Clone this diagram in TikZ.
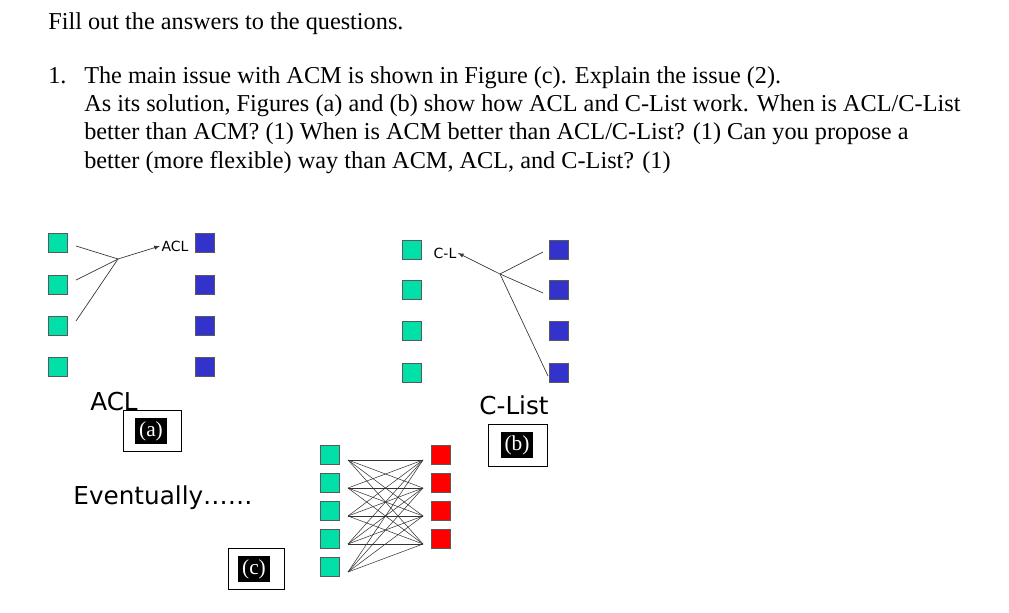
\documentclass[tikz,border=0pt]{standalone}
\usepackage{fontspec}
\setmainfont{Liberation Serif}
\newfontfamily\sans{DejaVu Sans}
\definecolor{gq}{HTML}{00E0A8}
\definecolor{bq}{HTML}{3333CC}
\begin{document}
\begin{tikzpicture}[x=0.75pt,y=-0.75pt,
  gsq/.style={draw=gray!70!black,fill=gq,minimum size=14.5pt,inner sep=0pt,line width=0.6pt},
  bsq/.style={draw=gray!70!black,fill=bq,minimum size=14.5pt,inner sep=0pt,line width=0.6pt},
  rsq/.style={draw=gray!70!black,fill=red,minimum size=14.5pt,inner sep=0pt,line width=0.6pt},
  ln/.style={draw=black!80,line width=0.5pt},
  tx/.style={anchor=base west,inner sep=0pt,font=\fontsize{18.2}{20}\selectfont},
  big/.style={font=\sans\fontsize{18.5}{22}\selectfont},
  lab/.style={fill=black,text=white,inner xsep=3pt,inner ysep=2.5pt,font=\fontsize{16}{18}\selectfont},
  frame/.style={draw,line width=0.6pt,minimum width=44pt,minimum height=31pt}]
\useasboundingbox (0,0) rectangle (1009,613);
\node[tx] (t0) at (48,30) {Fill out the answers to the questions.};
\node[tx] (t1) at (48,84) {1.};
\node[tx] (t2) at (84,84) {The main issue with ACM is shown in Figure (c). Explain the issue (2).};
\node[tx] (t3) at (84,112) {As its solution, Figures (a) and (b) show how ACL and C-List work. When is ACL/C-List};
\node[tx] (t4) at (84,140) {better than ACM? (1) When is ACM better than ACL/C-List? (1) Can you propose a};
\node[tx] (t5) at (84,168) {better (more flexible) way than ACM, ACL, and C-List? (1)};
% (a)
\foreach \i/\y in {1/243,2/285,3/326,4/367}{
  \node[gsq] (ag\i) at (58,\y) {};
  \node[bsq] (ab\i) at (205,\y) {};}
\coordinate (aj) at (118,259);
\coordinate (as1) at (76,246); \coordinate (as2) at (76,280); \coordinate (as3) at (76,321);
\node[font=\sans\fontsize{10.5}{12}\selectfont,inner sep=1pt] (acl) at (175,246) {ACL};
\foreach \i in {1,2,3} \draw[ln] (as\i) -- (aj);
\draw[ln,-latex] (aj) -- (acl.west);
\node[big] (aclb) at (114,402) {ACL};
\node[frame] (fa) at (152.5,431) {};
\node[lab] (la) at (151,431) {(a)};
% (b)
\foreach \i/\y in {1/250,2/290,3/331,4/373}{
  \node[gsq] (bg\i) at (412,\y) {};
  \node[bsq] (bb\i) at (559,\y) {};}
\coordinate (bj) at (500,274);
\coordinate (bs1) at (543,252); \coordinate (bs2) at (543,293); \coordinate (bs3) at (548,376);
\node[font=\sans\fontsize{10.5}{12}\selectfont,inner sep=1pt] (cl) at (445,253) {C-L};
\foreach \i in {1,2,3} \draw[ln] (bs\i) -- (bj);
\draw[ln,-latex] (bj) -- (cl.east);
\node[big] (clb) at (514,405) {C-List};
\node[frame] (fb) at (518,445.5) {};
\node[lab] (lb) at (517,445) {(b)};
% (c)
\foreach \i/\y in {1/455,2/483,3/511,4/539,5/567}{
  \node[gsq] (cg\i) at (330,\y) {};
  \coordinate (cl\i) at (348,\y+5);}
\foreach \i/\y in {1/455,2/483,3/511,4/539}{
  \node[rsq] (cr\i) at (441,\y) {};
  \coordinate (cr\i p) at (423,\y+5);}
\foreach \i in {1,...,5} \foreach \j in {1,...,4} \draw[ln,line width=0.4pt] (cl\i) -- (cr\j p);
\node[big] (ev) at (163,498) {Eventually……};
\node[frame,minimum width=42pt] (fc) at (256,569) {};
\node[lab] (lc) at (254,569) {(c)};
\end{tikzpicture}
\end{document}
